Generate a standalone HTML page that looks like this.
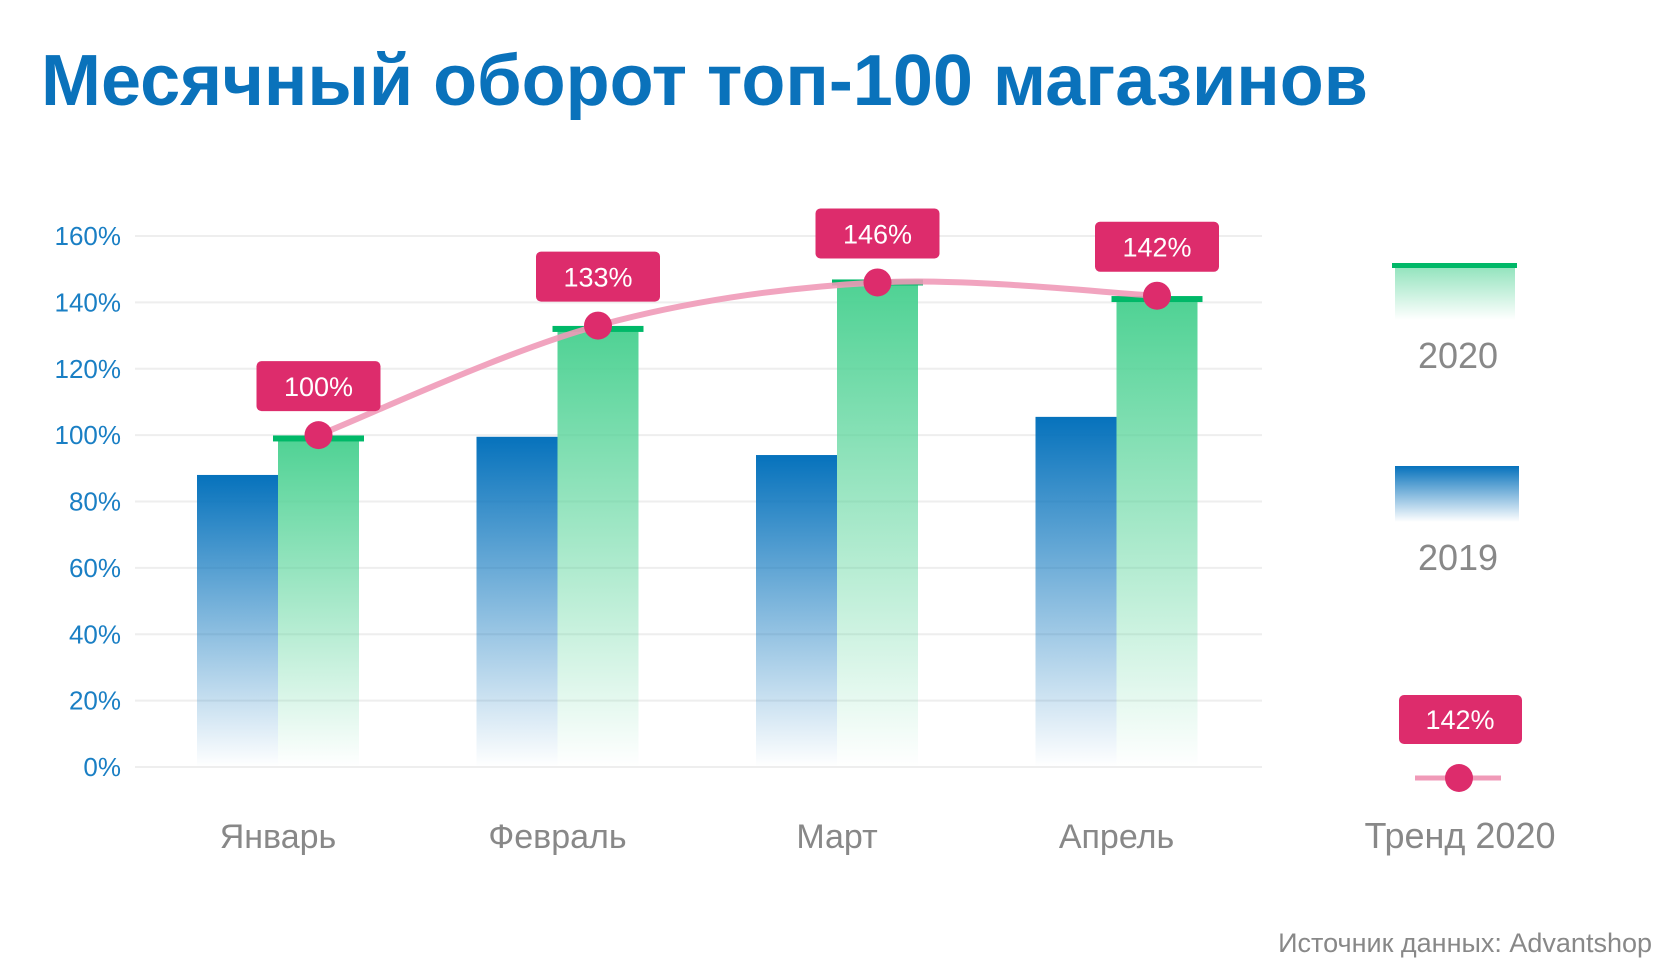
<!DOCTYPE html>
<html><head><meta charset="utf-8"><style>
body{margin:0;background:#fff;width:1680px;height:972px;overflow:hidden;font-family:"Liberation Sans","DejaVu Sans",sans-serif}
</style></head><body>
<svg id="c" width="1680" height="972" xmlns="http://www.w3.org/2000/svg">
<defs>
<linearGradient id="gb" x1="0" y1="0" x2="0" y2="1"><stop offset="0" stop-color="#0672bc"/><stop offset="1" stop-color="#0672bc" stop-opacity="0"/></linearGradient>
<linearGradient id="gg" x1="0" y1="0" x2="0" y2="1"><stop offset="0" stop-color="#4fd294"/><stop offset="1" stop-color="#4fd294" stop-opacity="0"/></linearGradient>
<linearGradient id="lg" x1="0" y1="0" x2="0" y2="1"><stop offset="0" stop-color="#4fd294" stop-opacity="0.6"/><stop offset="1" stop-color="#4fd294" stop-opacity="0"/></linearGradient>
<linearGradient id="lb" x1="0" y1="0" x2="0" y2="1"><stop offset="0" stop-color="#0672bc"/><stop offset="1" stop-color="#0672bc" stop-opacity="0"/></linearGradient>
</defs>
<text x="41" y="105" font-size="72" font-weight="bold" fill="#0a72bb">Месячный оборот топ-100 магазинов</text>
<g id="grid"></g><g id="bars"></g><g id="trend"></g>
<g>
<rect x="1395" y="268" width="120" height="52" fill="url(#lg)"/>
<rect x="1392" y="263" width="125" height="5" fill="#00b868"/>
<text x="1458" y="368" font-size="36" fill="#888" text-anchor="middle">2020</text>
<rect x="1395" y="466" width="124" height="56" fill="url(#lb)"/>
<text x="1458" y="570" font-size="36" fill="#888" text-anchor="middle">2019</text>
<rect x="1399" y="695" width="123" height="49" rx="5" fill="#dd2c6c"/>
<text x="1460" y="729" font-size="27" fill="#fff" text-anchor="middle">142%</text>
<line x1="1415" y1="778" x2="1501" y2="778" stroke="#f09ab8" stroke-width="5"/>
<circle cx="1459" cy="778" r="14" fill="#dd2c6c"/>
<text x="1460" y="848" font-size="36" fill="#888" text-anchor="middle">Тренд 2020</text>
</g>
<text x="1652" y="952" font-size="27" fill="#888" text-anchor="end">Источник данных: Advantshop</text>
</svg>
<script>
const categories=["Январь","Февраль","Март","Апрель"];
const values2019=[88,99.5,94,105.5];
const values2020=[99,132,146,141];
const trend2020=[100,133,146,142];
const trendLabels=["100%","133%","146%","142%"];
const yTicks=[0,20,40,60,80,100,120,140,160];
const NS="http://www.w3.org/2000/svg";
function y(v){return 767-v*(531/160);}
function gx(i){return 278+i*279.5;}
function mk(t,a,p){const e=document.createElementNS(NS,t);for(const k in a)e.setAttribute(k,a[k]);p.appendChild(e);return e;}
const grid=document.getElementById('grid'),bars=document.getElementById('bars'),tr=document.getElementById('trend');
yTicks.forEach(v=>{
 const l=mk('line',{x1:135,x2:1262,y1:y(v),y2:y(v),stroke:'#eee','stroke-width':2},grid);
 
 
 const t=mk('text',{x:121,y:y(v)+9,'font-size':26,fill:'#1a7fc4','text-anchor':'end'},grid);
 t.textContent=v+'%';
 
 
});
categories.forEach((c,i)=>{
 const cx=gx(i);
 const b=mk('rect',{x:cx-81,y:y(values2019[i]),width:81,height:767-y(values2019[i]),fill:'url(#gb)'},bars);
 
 
 const g=mk('rect',{x:cx,y:y(values2020[i]),width:81,height:767-y(values2020[i]),fill:'url(#gg)'},bars);
 
 
 const cap=mk('rect',{x:cx-5,y:y(values2020[i])-3,width:91,height:6,fill:'#00b868'},bars);
 
 
 const t=mk('text',{x:cx,y:848,'font-size':34,fill:'#888','text-anchor':'middle'},bars);
 t.textContent=c;
 
 
});
const pts=trend2020.map((v,i)=>[gx(i)+40.5,y(v)]);
let d='M'+pts[0][0]+','+pts[0][1];
for(let i=0;i<pts.length-1;i++){
 const p0=pts[Math.max(0,i-1)],p1=pts[i],p2=pts[i+1],p3=pts[Math.min(pts.length-1,i+2)];
 const c1=[p1[0]+(p2[0]-p0[0])/6,p1[1]+(p2[1]-p0[1])/6],c2=[p2[0]-(p3[0]-p1[0])/6,p2[1]-(p3[1]-p1[1])/6];
 d+=' C'+c1+' '+c2+' '+p2;
}
const path=mk('path',{d:d,fill:'none',stroke:'#f09ab8','stroke-width':6,'stroke-opacity':0.9},tr);


pts.forEach((p,i)=>{
 const c=mk('circle',{cx:p[0],cy:p[1],r:14,fill:'#dd2c6c'},tr);
 
 
 const r=mk('rect',{x:p[0]-62,y:p[1]-74,width:124,height:50,rx:5,fill:'#dd2c6c'},tr);
 
 
 const t=mk('text',{x:p[0],y:p[1]-39,'font-size':27,fill:'#fff','text-anchor':'middle'},tr);
 t.textContent=trendLabels[i];
 
 
});
</script>
</body></html>
